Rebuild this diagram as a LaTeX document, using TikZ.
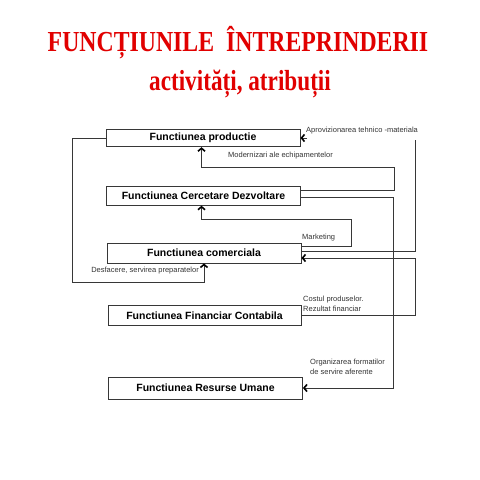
\documentclass[tikz,border=0pt]{standalone}
\usepackage{fontspec}
\setmainfont{Liberation Serif}
\setsansfont{Liberation Sans}
\usetikzlibrary{arrows.meta}
\definecolor{titlered}{RGB}{225,0,0}
\definecolor{ink}{RGB}{55,55,55}
\tikzset{
  fbox/.style={draw=ink, line width=0.9bp, fill=white, inner sep=0pt,
    minimum width=194bp, font=\sffamily\bfseries\fontsize{10.5bp}{12bp}\selectfont},
  conn/.style={draw=ink, line width=0.9bp},
  arr/.style={conn, -{Straight Barb[length=3bp,width=7bp,line width=1.6bp,color=black]}},
  lab/.style={inner sep=0pt, font=\sffamily\fontsize{7.5bp}{12bp}\selectfont, text=black!80},
  ttl/.style={text=titlered, font=\rmfamily\bfseries, inner sep=0pt}
}
\begin{document}
\begin{tikzpicture}[x=1bp,y=-1bp]
\useasboundingbox (0,0) rectangle (480,480);
% titles
\node[ttl, anchor=base] (t1) at (238,52) {\scalebox{0.82}[1]{\fontsize{29bp}{32bp}\selectfont FUNCȚIUNILE\ \ ÎNTREPRINDERII}};
\node[ttl, anchor=base] (t2) at (240,91) {\scalebox{0.8}[1]{\fontsize{29bp}{32bp}\selectfont activități, atribuții}};
% boxes
\node[fbox, minimum height=17.5bp] (b1) at (203,138) {Functiunea productie};
\node[fbox, minimum height=18.5bp] (b2) at (203.5,196) {Functiunea Cercetare Dezvoltare};
\node[fbox, minimum height=20bp] (b3) at (204,253) {Functiunea comerciala};
\node[fbox, minimum height=19.5bp, minimum width=193bp] (b4) at (204.5,315.5) {Functiunea Financiar Contabila};
\node[fbox, minimum height=22bp, minimum width=194bp] (b5) at (205.5,388) {Functiunea Resurse Umane};
% labels
\node[lab, anchor=west] (apr) at (306,131) {Aprovizionarea tehnico -materiala};
\node[lab, anchor=west] (mod) at (228,156) {Modernizari ale echipamentelor};
\node[lab, anchor=west] (mkt) at (302,238) {Marketing};
\node[lab, anchor=east] (des) at (199,271) {Desfacere, servirea preparatelor};
\node[lab, anchor=west, align=left] (cst) at (303,304) {Costul produselor.\\[-2.5bp]Rezultat financiar};
\node[lab, anchor=west, align=left] (org) at (310,367) {Organizarea formatilor\\[-2bp]de servire aferente};
% connectors
\draw[arr] (b1.west) -| (72.5,282) -| (b3.south);
\draw[arr] (b2.east |- 0,190) -| (394,167) -| ([xshift=-1.5bp]b1.south);
\draw[arr] (b2.east |- 0,197.5) -| (393.5,388) -- (b5.east);
\draw[arr] (b3.east |- 0,246) -| (351,219) -| ([xshift=-2bp]b2.south);
\draw[conn] (b3.east |- 0,251.5) -| (415,140);
\draw[arr] ([xshift=1bp]apr.west |- b1.east) -- (b1.east);
\draw[arr] (b4.east) -| (415,258) -- (b3.east |- 0,258);
\end{tikzpicture}
\end{document}
